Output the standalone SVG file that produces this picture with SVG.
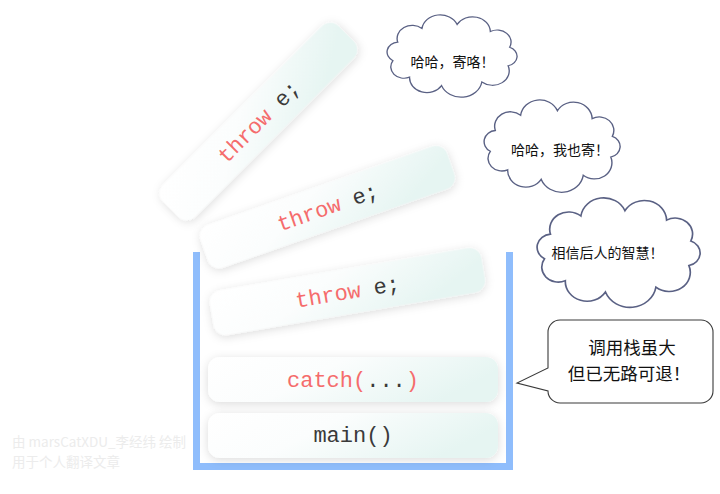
<svg xmlns="http://www.w3.org/2000/svg" width="720" height="494" viewBox="0 0 720 494">
<defs>
  <linearGradient id="boxGrad" x1="0" y1="0" x2="1" y2="0.3">
    <stop offset="0" stop-color="#ffffff"/>
    <stop offset="0.45" stop-color="#fbfdfd"/>
    <stop offset="1" stop-color="#e6f5f2"/>
  </linearGradient>
  <filter id="shadow" x="-20%" y="-60%" width="140%" height="220%">
    <feDropShadow dx="0" dy="2" stdDeviation="5" flood-color="#000" flood-opacity="0.14"/>
  </filter>
  <path id="cloud" d="M10.6,39.2 A7.7,7.7 0 0 1 13.8,24.8 A10.1,10.1 0 0 1 30,14.2 A12.3,12.3 0 0 1 53.5,11.1 A11.9,11.9 0 0 1 75.7,16.6 A9.3,9.3 0 0 1 88.6,28.8 A7.5,7.5 0 0 1 87.6,43.2 A11.2,11.2 0 0 1 70,55.8 A14,14 0 0 1 43.1,58.6 A11.6,11.6 0 0 1 21.7,52 A8.8,8.8 0 0 1 10.6,39.2 Z"/>
</defs>
<style>
  .box { fill: url(#boxGrad); filter: url(#shadow); }
  .code { font-family: "Liberation Mono", "DejaVu Sans Mono", monospace; font-size: 22px; text-anchor: middle; fill: #3a3a3a; }
  .kw { fill: #f56c6c; }
  .cloud use { fill: #ffffff; stroke: #5a6184; stroke-width: 0.9; vector-effect: non-scaling-stroke; }
  .cjk { font-family: "Noto Sans CJK SC", "Liberation Sans", sans-serif; fill: #111; text-anchor: middle; }
  .wm { font-family: "Noto Sans CJK SC", "Liberation Sans", sans-serif; font-size: 13.5px; fill: #ececec; }
</style>
<rect width="720" height="494" fill="#ffffff"/>

<g id="connectors">
  <path id="stack-container" d="M196.5,252 V466.5 H509.5 V252" fill="none" stroke="#8fbdfc" stroke-width="7"/>
</g>

<g id="throw1" transform="translate(258.5,121.5) rotate(-45)">
  <rect class="box" x="-124" y="-22.5" width="248" height="45" rx="12"/>
  <text class="code" x="0" y="7.5"><tspan class="kw">throw</tspan> e;</text>
</g>

<g id="throw2" transform="translate(327.5,207) rotate(-19.3)">
  <rect class="box" x="-130.5" y="-22.5" width="261" height="45" rx="12"/>
  <text class="code" x="0" y="7.5"><tspan class="kw">throw</tspan> e;</text>
</g>

<g id="throw3" transform="translate(347.5,291.5) rotate(-9.7)">
  <rect class="box" x="-137.5" y="-22.5" width="275" height="45" rx="12"/>
  <text class="code" x="0" y="7.5"><tspan class="kw">throw</tspan> e;</text>
</g>

<g id="catch">
  <rect class="box" x="208" y="357" width="290" height="45" rx="12"/>
  <text class="code" x="353" y="387"><tspan class="kw">catch(</tspan>...<tspan class="kw">)</tspan></text>
</g>

<g id="main">
  <rect class="box" x="208" y="413" width="290" height="45" rx="12"/>
  <text class="code" x="353" y="442">main()</text>
</g>

<g id="cloud1" class="cloud">
  <use href="#cloud" transform="translate(377.1,10.2) scale(1.496,1.287)"/>
  <text class="cjk" x="452.5" y="67" font-size="14">哈哈，寄咯！</text>
</g>

<g id="cloud2" class="cloud">
  <use href="#cloud" transform="translate(473.7,94.7) scale(1.565,1.444)"/>
  <text class="cjk" x="560" y="155" font-size="14">哈哈，我也寄！</text>
</g>

<g id="cloud3" class="cloud">
  <use href="#cloud" transform="translate(524.6,191.7) scale(1.876,1.711)"/>
  <text class="cjk" x="607.5" y="258" font-size="14">相信后人的智慧！</text>
</g>

<g id="callout">
  <path d="M560,320 H701 A12,12 0 0 1 713,332 V391 A12,12 0 0 1 701,403 H560 A12,12 0 0 1 548,391 L517,383 L548,368 V332 A12,12 0 0 1 560,320 Z" fill="#ffffff" stroke="#3a3a3a" stroke-width="1.1"/>
  <text class="cjk" x="632" y="354" font-size="17.5">调用栈虽大</text>
  <text class="cjk" x="629" y="380" font-size="17.5">但已无路可退！</text>
</g>

<g id="watermark">
  <text class="wm" x="12" y="447">由 marsCatXDU_李经纬 绘制</text>
  <text class="wm" x="12" y="467">用于个人翻译文章</text>
</g>
</svg>
